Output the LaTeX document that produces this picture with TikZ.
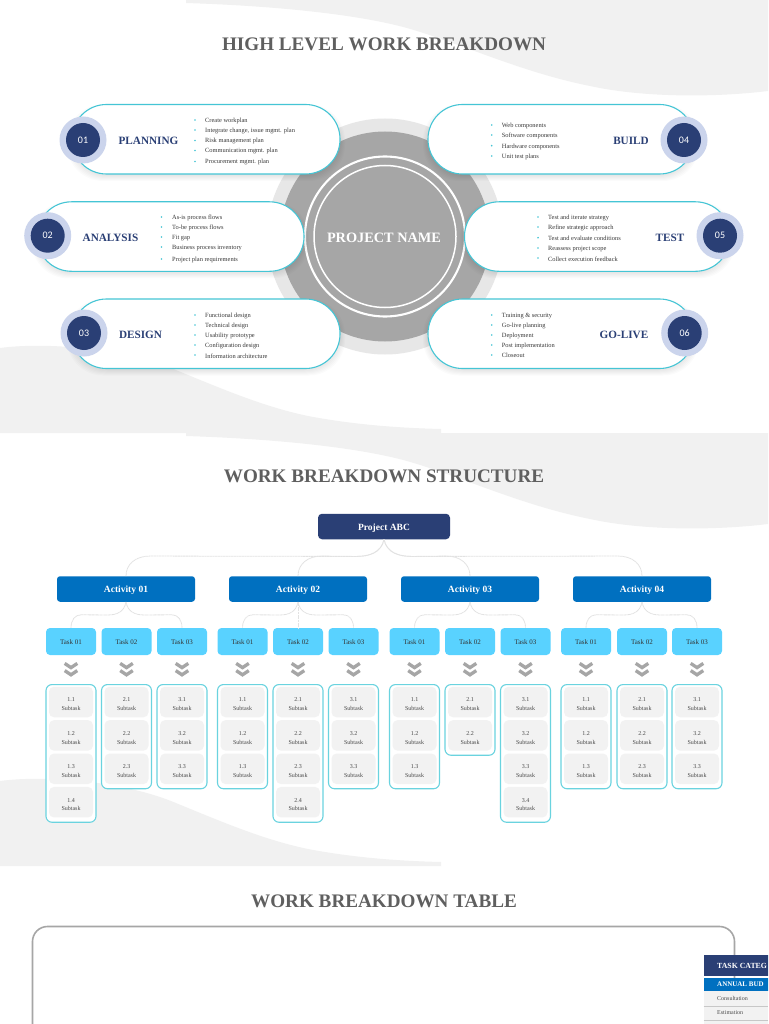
\documentclass[tikz,border=0pt]{standalone}
\usepackage{fontspec}
\setmainfont{Liberation Serif}
\newfontfamily\numfont{Carlito}
\usetikzlibrary{calc}
\definecolor{bgblob}{HTML}{F1F1F1}
\definecolor{navy}{HTML}{2A3F75}
\definecolor{ringlight}{HTML}{E7E7E7}
\definecolor{ringdark}{HTML}{A6A6A6}
\definecolor{teal}{HTML}{45C5D5}
\definecolor{badgeout}{HTML}{CBD4EC}
\definecolor{titlegray}{HTML}{5F5F5F}
\definecolor{actblue}{HTML}{0070C0}
\definecolor{taskblue}{HTML}{59D2FF}
\definecolor{subborder}{HTML}{6AD3DF}
\definecolor{subfill}{HTML}{F2F2F2}
\definecolor{connline}{HTML}{E2E2E2}
\newcommand\fs[1]{\fontsize{#1}{#1}\selectfont}
\tikzset{
  sectitle/.style={font=\fs{19.15}\bfseries,text=titlegray,inner sep=0,yshift=-.8pt},
  pillbox/.style={draw=teal,line width=1.1pt,fill=white,rounded corners=34.5pt,minimum width=#1,minimum height=69.5pt,inner sep=0},
  badgeo/.style={circle,fill=badgeout,minimum size=47pt,inner sep=0},
  badgei/.style={circle,fill=navy,text=white,minimum size=34pt,inner sep=0,font=\numfont\fs{10}},
  heading/.style={font=\fs{11.2}\bfseries,text=navy,inner sep=0,yshift=-.8pt},
  itemtext/.style={font=\fs{6.4},text=black!78,inner sep=0,anchor=west,yshift=-.8pt},
  bulletdot/.style={fill=teal,circle,minimum size=1.9pt,inner sep=0},
  projbox/.style={fill=navy,rounded corners=4pt,minimum width=132pt,minimum height=25.5pt,text=white,font=\fs{9.5}\bfseries,inner sep=0,text height=7pt,text depth=0pt},
  actbox/.style={fill=actblue,rounded corners=3pt,minimum width=138pt,minimum height=25.5pt,text=white,font=\fs{9.5}\bfseries,inner sep=0,text height=7pt,text depth=0pt},
  taskbox/.style={fill=taskblue,rounded corners=4pt,minimum width=50pt,minimum height=27pt,text=black!80,font=\fs{7},inner sep=0,text height=5.5pt,text depth=0pt},
  subouter/.style={draw=subborder,line width=1.1pt,fill=white,rounded corners=6pt,minimum width=50pt,inner sep=0},
  subinner/.style={fill=subfill,rounded corners=5pt,minimum width=44pt,minimum height=30.5pt,text=black!72,font=\fs{6},align=center,inner sep=0},
  chev/.style={draw=ringdark,line width=3.3pt},
  conn/.style={draw=connline,line width=.8pt,dash pattern=on 1.2pt off .4pt},
  rowtext/.style={font=\fs{6},text=black!70,inner sep=0,anchor=west},
  tabhead/.style={font=\fs{7.8}\bfseries,text=white,inner sep=0,anchor=west},
}
% #1 name, #2 left, #3 top, #4 right, #5 bottom
\newcommand\pillnode[5]{%
  \pgfmathsetmacro\pw{#4-#2}\pgfmathsetmacro\pcx{(#2+#4)/2}\pgfmathsetmacro\pcy{(#3+#5)/2}
  \foreach \k in {0,1,2,3,4,5}{
    \fill[black,opacity=.016,rounded corners=36pt] (#2-\k,#3+2-\k+3) rectangle (#4+\k,#5+2+\k);
  }
  \node[pillbox=\pw pt] (#1) at (\pcx,\pcy) {};
}
% #1 name #2 x #3 y #4 label
\newcommand\badgenode[4]{%
  \node[badgeo] (#1o) at (#2,#3) {};
  \node[badgei] (#1) at (#2,#3) {#4};
}
% #1 prefix #2 bullet x #3 text x #4 list
\newcommand\itemlist[4]{%
  \foreach \yy/\txt [count=\c] in {#4}{
    \node[bulletdot] (#1d\c) at (#2,\yy) {};
    \node[itemtext] (#1t\c) at (#3,\yy) {\txt};
  }
}
% #1 from #2 to #3 from dx #4 to dx #5 rise from #6 rise to
\newcommand\curveconn[6]{%
  \path[conn] (#1) .. controls ($(#1)+(0.1*#3,0.8*#5)$) and ($(#1)+(0.55*#3,#5)$) .. ($(#1)+(#3,#5)$)
    -- ($(#2)+(#4,-#6)$) .. controls ($(#2)+(0.4*#4,-#6)$) and ($(#2)+(0,-0.6*#6)$) .. (#2);
}
\begin{document}
\begin{tikzpicture}[x=1pt,y=-1pt]
\useasboundingbox (0,0) rectangle (768,1024);
\clip (0,0) rectangle (768,1024);
\fill[white] (0,0) rectangle (768,1024);
% backgrounds
\foreach \off in {0,433}{
\begin{scope}[yshift=-\off pt]
 \fill[bgblob] (186,3) .. controls (280,6) and (360,15) .. (407,28) .. controls (460,43) and (520,72) .. (590,86) .. controls (640,97) and (710,98) .. (768,91) -- (768,0) -- (186,0) -- cycle;
 \fill[bgblob] (0,348) .. controls (45,342) and (120,348) .. (171,368) .. controls (220,388) and (270,410) .. (319,418) .. controls (360,425) and (400,428) .. (441,429) -- (441,433) -- (0,433) -- cycle;
\end{scope}
}
% titles
\node[sectitle] (title1) at (384,44) {HIGH LEVEL WORK BREAKDOWN};
\node[sectitle] (title2) at (384,476) {WORK BREAKDOWN STRUCTURE};
\node[sectitle] (title3) at (384,900) {WORK BREAKDOWN TABLE};
% central disc
\fill[ringlight] (385,236.5) circle (118);
\fill[ringdark] (385,236.5) circle (105);
\draw[white,line width=2.1pt] (385,236.5) circle (80);
\draw[white,line width=1.5pt] (385,236.5) circle (71);
\node[font=\fs{14.3}\bfseries,text=white,inner sep=0] (center) at (384,237.5) {PROJECT NAME};
% pills
\pillnode{p1}{72}{104.5}{340}{174}
\pillnode{p2}{37}{201.8}{304}{271.3}
\pillnode{p3}{72}{299}{340}{368.5}
\pillnode{p4}{428}{104.5}{694}{174}
\pillnode{p5}{464.5}{201.8}{730}{271.3}
\pillnode{p6}{428}{299}{694}{368.5}
\badgenode{b1}{83}{140}{01}
\badgenode{b2}{47.7}{235.7}{02}
\badgenode{b3}{84}{333}{03}
\badgenode{b4}{684}{140}{04}
\badgenode{b5}{720}{235.7}{05}
\badgenode{b6}{684.7}{333}{06}
\node[heading] (h1) at (148.5,140) {PLANNING};
\node[heading] (h2) at (110.5,237) {ANALYSIS};
\node[heading] (h3) at (140.5,334) {DESIGN};
\node[heading] (h4) at (631,140) {BUILD};
\node[heading] (h5) at (670,237) {TEST};
\node[heading] (h6) at (624,334) {GO-LIVE};
\itemlist{i1}{195}{205}{120/Create workplan,130/{Integrate change, issue mgmt. plan},140.5/Risk management plan,150.5/Communication mgmt. plan,161.5/Procurement mgmt. plan}
\itemlist{i2}{161.5}{172}{217/As-is process flows,227/To-be process flows,237/Fit gap,247/Business process inventory,259/Project plan requirements}
\itemlist{i3}{195}{205}{315/Functional design,325/Technical design,335/Usability prototype,345/Configuration design,355/Information architecture}
\itemlist{i4}{491.7}{501.7}{125/Web components,135/Software components,145.7/Hardware components,156/Unit test plans}
\itemlist{i5}{538}{548}{217/Test and iterate strategy,227/Refine strategic approach,237.7/Test and evaluate conditions,248/Reassess project scope,258/Collect execution feedback}
\itemlist{i6}{491.7}{501.7}{315/Training \& security,325/Go-live planning,335/Deployment,345/Post implementation,355/Closeout}
% WBS boxes
\node[projbox] (proj) at (384,526.5) {Project ABC};
\node[actbox] (a1) at (126,589) {Activity 01};
\node[actbox] (a2) at (298,589) {Activity 02};
\node[actbox] (a3) at (470,589) {Activity 03};
\node[actbox] (a4) at (642,589) {Activity 04};
\foreach \cx/\tn/\n [count=\c] in {71/1/4,126.5/2/3,182/3/3,242.5/1/3,298/2/4,353.5/3/3,414.5/1/3,470/2/2,525.5/3/4,586/1/3,642/2/3,697/3/3}{
  \node[taskbox] (t\c) at (\cx,641.5) {Task 0\tn};
  \draw[chev] (\cx-6.3,663.4) -- (\cx,667.6) -- (\cx+6.3,663.4);
  \draw[chev] (\cx-6.3,670.6) -- (\cx,674.8) -- (\cx+6.3,670.6);
  \pgfmathsetmacro\boxh{\n*33.5+3.7}
  \node[subouter,minimum height=\boxh pt,anchor=north] (sb\c) at (\cx,684) {};
  \foreach \s in {1,...,\n}{
    \pgfmathsetmacro\sy{702+(\s-1)*33.4}
    \node[subinner] (s\c-\s) at (\cx,\sy) {\rule{0pt}{8.5pt}\tn.\s\\[2.8pt]Subtask};
  }
}
% connectors
\curveconn{proj.south}{a1.north}{-28}{24}{17}{20}
\curveconn{proj.south}{a2.north}{-28}{24}{17}{20}
\curveconn{proj.south}{a3.north}{28}{-24}{17}{20}
\curveconn{proj.south}{a4.north}{28}{-24}{17}{20}
\curveconn{a1.south}{t1.north}{-18}{10}{13}{13}
\curveconn{a1.south}{t3.north}{18}{-10}{13}{13}
\curveconn{a2.south}{t4.north}{-18}{10}{13}{13}
\path[conn] (a2.south) -- (t5.north);
\curveconn{a2.south}{t6.north}{18}{-10}{13}{13}
\curveconn{a3.south}{t7.north}{-18}{10}{13}{13}
\curveconn{a3.south}{t9.north}{18}{-10}{13}{13}
\curveconn{a4.south}{t10.north}{-18}{10}{13}{13}
\curveconn{a4.south}{t12.north}{18}{-10}{13}{13}
% table frame
\draw[ringdark,line width=1.6pt,rounded corners=15pt] (32.5,1060) -- (32.5,926.5) -- (734.5,926.5) -- (734.5,1060);
% table fragment
\node[fill=navy,minimum width=65pt,minimum height=21pt,anchor=north west,inner sep=0] (thead) at (703.5,955) {};
\node[tabhead] (theadt) at (717,965.5) {TASK CATEG};
\node[fill=actblue,minimum width=65pt,minimum height=12.3pt,anchor=north west,inner sep=0] (tsub) at (703.5,978) {};
\node[tabhead,font=\fs{7}\bfseries] (tsubt) at (717,984.2) {ANNUAL BUD};
\fill[subfill] (703.5,990.5) rectangle (768,1024);
\draw[black!22,line width=.6pt] (703.5,1006) -- (768,1006);
\draw[black!22,line width=.6pt] (703.5,1020) -- (768,1020);
\node[rowtext] (r1) at (717,998.5) {Consultation};
\node[rowtext] (r2) at (717,1013) {Estimation};
\end{tikzpicture}
\end{document}
